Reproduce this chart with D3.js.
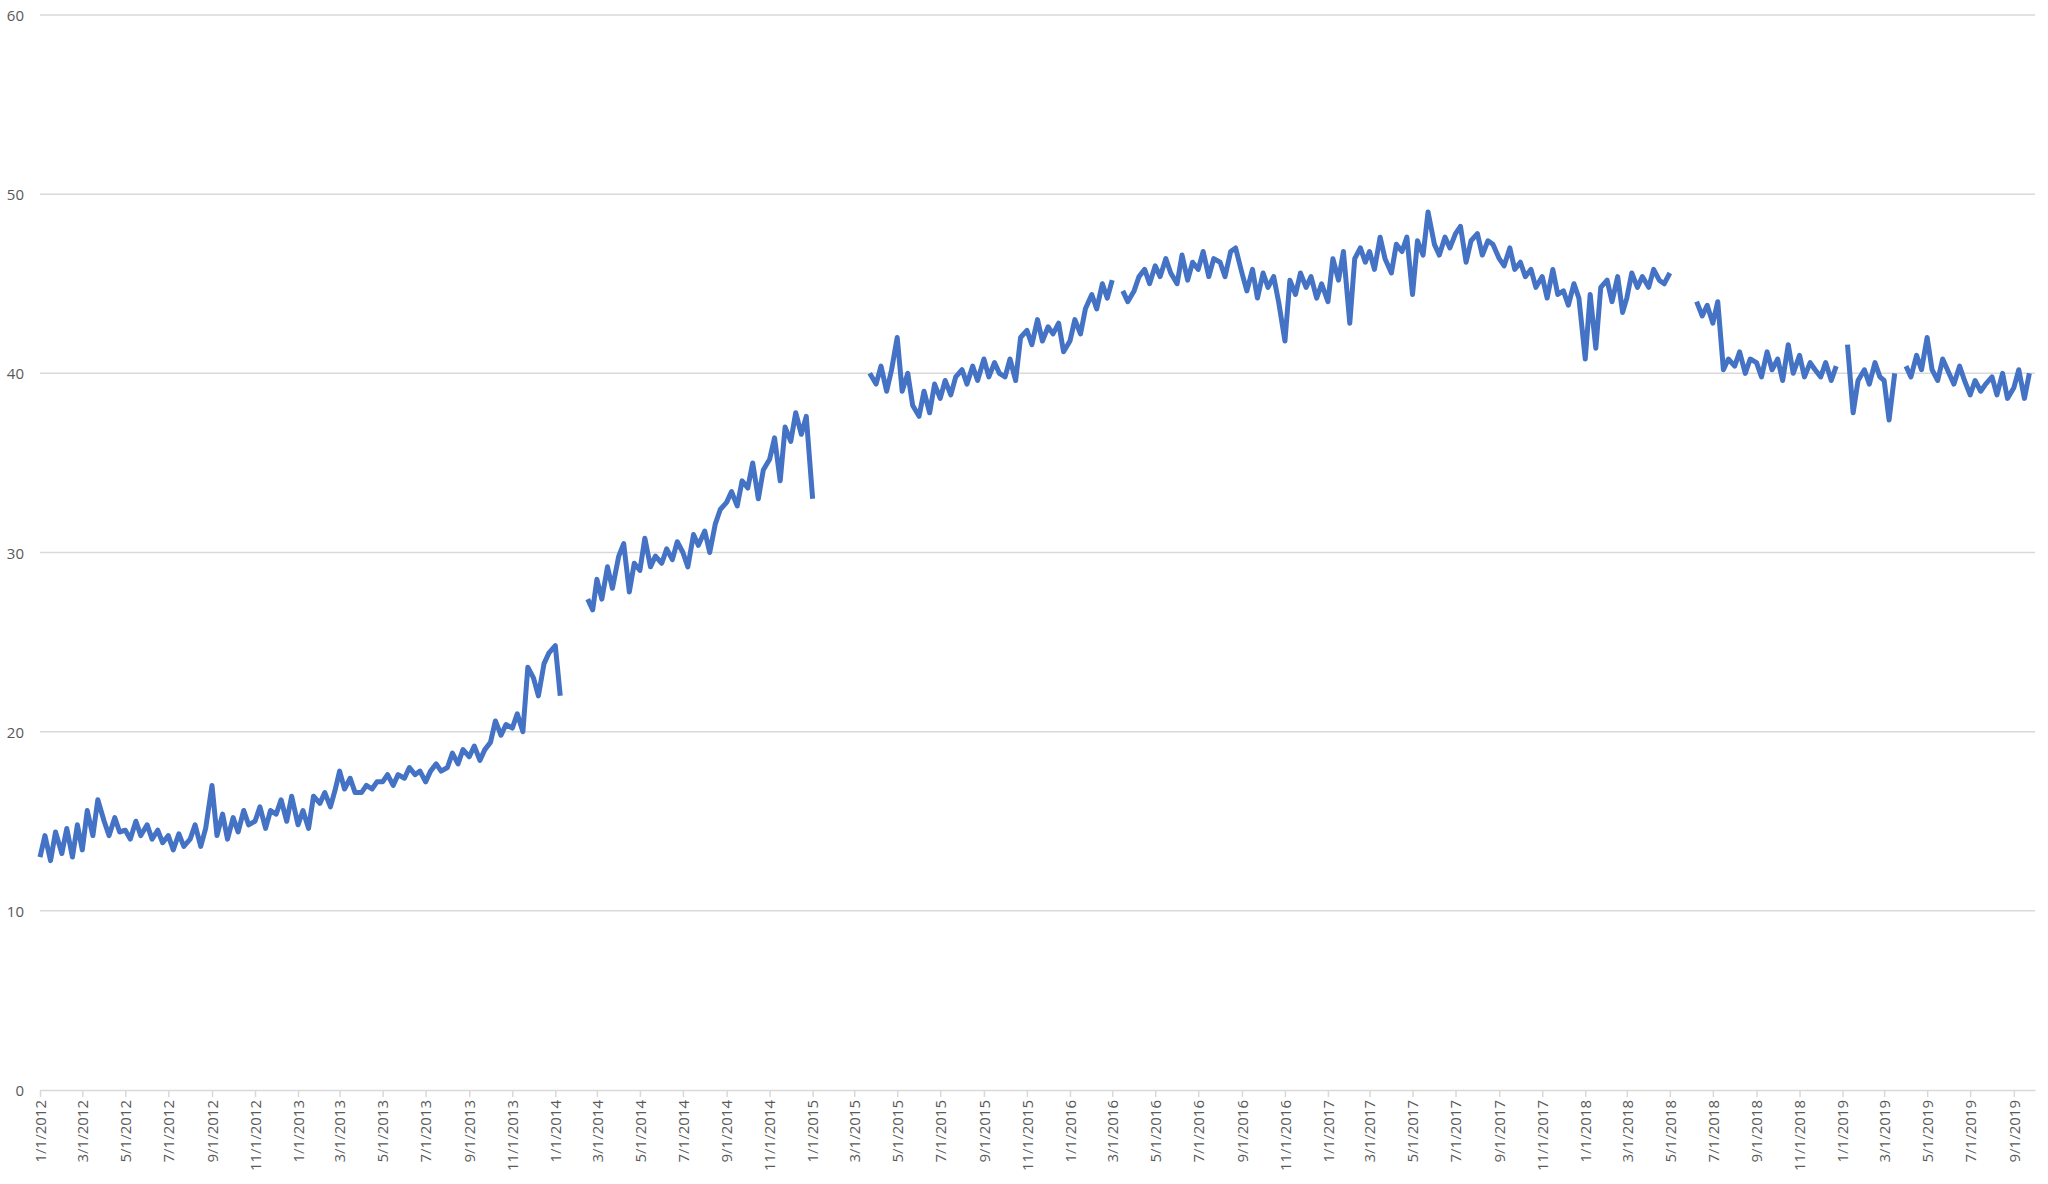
<!DOCTYPE html>
<html><head><meta charset="utf-8">
<script src="https://cdn.jsdelivr.net/npm/d3@7"></script>
<style>body{margin:0;background:#fff}svg{display:block}</style></head>
<body><svg id="c" width="2048" height="1184"></svg>
<script>
const months=["2012-01","2012-02","2012-03","2012-04","2012-05","2012-06","2012-07","2012-08","2012-09","2012-10","2012-11","2012-12",
"2013-01","2013-02","2013-03","2013-04","2013-05","2013-06","2013-07","2013-08","2013-09","2013-10","2013-11","2013-12",
"2014-01","2014-02","2014-03","2014-04","2014-05","2014-06","2014-07","2014-08","2014-09","2014-10","2014-11","2014-12",
"2015-01","2015-02","2015-03","2015-04","2015-05","2015-06","2015-07","2015-08","2015-09","2015-10","2015-11","2015-12",
"2016-01","2016-02","2016-03","2016-04","2016-05","2016-06","2016-07","2016-08","2016-09","2016-10","2016-11","2016-12",
"2017-01","2017-02","2017-03","2017-04","2017-05","2017-06","2017-07","2017-08","2017-09","2017-10","2017-11","2017-12",
"2018-01","2018-02","2018-03","2018-04","2018-05","2018-06","2018-07","2018-08","2018-09","2018-10","2018-11","2018-12",
"2019-01","2019-02","2019-03","2019-04","2019-05","2019-06","2019-07","2019-08","2019-09"];
const sampleDays=[1,8,16,23];
const values=[
[13.0,14.2,12.8,14.4],[13.2,14.6,13.0,14.8],[13.4,15.6,14.2,16.2],[15.0,14.2,15.2,14.4],[14.5,14.0,15.0,14.2],[14.8,14.0,14.5,13.8],
[14.2,13.4,14.3,13.6],[14.0,14.8,13.6,14.6],[17.0,14.2,15.4,14.0],[15.2,14.4,15.6,14.8],[15.0,15.8,14.6,15.6],[15.4,16.2,15.0,16.4],
[14.8,15.6,14.6,16.4],[16.0,16.6,15.8,16.8],[17.8,16.8,17.4,16.6],[16.6,17.0,16.8,17.2],[17.2,17.6,17.0,17.6],[17.4,18.0,17.6,17.8],
[17.2,17.8,18.2,17.8],[18.0,18.8,18.2,19.0],[18.6,19.2,18.4,19.0],[19.4,20.6,19.8,20.4],[20.2,21.0,20.0,23.6],[23.0,22.0,23.8,24.4],
[24.8,22.0,null,null],[null,null,27.4,26.8],[28.5,27.4,29.2,28.0],[29.8,30.5,27.8,29.4],[29.0,30.8,29.2,29.8],[29.4,30.2,29.6,30.6],
[30.0,29.2,31.0,30.4],[31.2,30.0,31.6,32.4],[32.8,33.4,32.6,34.0],[33.6,35.0,33.0,34.6],[35.2,36.4,34.0,37.0],[36.2,37.8,36.6,37.6],
[33.0,null,null,null],[null,null,null,null],[null,null,null,40.0],[39.4,40.4,39.0,40.2],[42.0,39.0,40.0,38.2],[37.6,39.0,37.8,39.4],
[38.6,39.6,38.8,39.8],[40.2,39.4,40.4,39.6],[40.8,39.8,40.6,40.0],[39.8,40.8,39.6,42.0],[42.4,41.6,43.0,41.8],[42.6,42.2,42.8,41.2],
[41.8,43.0,42.2,43.6],[44.4,43.6,45.0,44.2],[45.2,null,44.6,44.0],[44.6,45.4,45.8,45.0],[46.0,45.4,46.4,45.6],[45.0,46.6,45.2,46.2],
[45.8,46.8,45.4,46.4],[46.2,45.4,46.8,47.0],[45.6,44.6,45.8,44.2],[45.6,44.8,45.4,44.0],[41.8,45.2,44.4,45.6],[44.8,45.4,44.2,45.0],
[44.0,46.4,45.2,46.8],[42.8,46.4,47.0,46.2],[46.8,45.8,47.6,46.4],[45.6,47.2,46.8,47.6],[44.4,47.4,46.6,49.0],[47.2,46.6,47.6,47.0],
[47.8,48.2,46.2,47.4],[47.8,46.6,47.4,47.2],[46.4,46.0,47.0,45.8],[46.2,45.4,45.8,44.8],[45.4,44.2,45.8,44.4],[44.6,43.8,45.0,44.2],
[40.8,44.4,41.4,44.8],[45.2,44.0,45.4,43.4],[44.2,45.6,44.8,45.4],[44.8,45.8,45.2,45.0],[45.6,null,null,null],[null,44.0,43.2,43.8],
[42.8,44.0,40.2,40.8],[40.4,41.2,40.0,40.8],[40.6,39.8,41.2,40.2],[40.8,39.6,41.6,40.0],[41.0,39.8,40.6,40.2],[39.8,40.6,39.6,40.4],
[null,41.6,37.8,39.6],[40.2,39.4,40.6,39.8],[39.6,37.4,40.0,null],[40.4,39.8,41.0,40.2],[42.0,40.2,39.6,40.8],[40.0,39.4,40.4,39.6],
[38.8,39.6,39.0,39.4],[39.8,38.8,40.0,38.6],[39.2,40.2,38.6,40.0]];
const yTicks=[0,10,20,30,40,50,60];

const data=[];
months.forEach((m,i)=>{const [y,mo]=m.split("-").map(Number);
  values[i].forEach((v,j)=>data.push({d:new Date(y,mo-1,sampleDays[j]),v}));});

const svg=d3.select("#c");
const L=40,R=2035,T=15,B=1090;
const x=d3.scaleTime().domain([new Date(2012,0,1),new Date(2019,9,1)]).range([L,R]);
const y=d3.scaleLinear().domain([0,60]).range([B,T]);

svg.append("g").selectAll("line").data(yTicks.slice(1)).join("line")
 .attr("x1",L).attr("x2",R).attr("y1",d=>y(d)).attr("y2",d=>y(d))
 .attr("stroke","#d9d9d9").attr("stroke-width",1.5);
svg.append("g").selectAll("text").data(yTicks).join("text")
 .attr("x",24).attr("y",d=>y(d)+6).attr("text-anchor","end")
 .attr("font-family","Open Sans, sans-serif").attr("font-size",15).attr("fill","#595959").text(d=>d);

const xt=d3.timeMonth.every(2).range(new Date(2012,0,1),new Date(2019,9,2));
const xa=svg.append("g").attr("transform",`translate(0,${B})`)
 .call(d3.axisBottom(x).tickValues(xt).tickSize(7).tickSizeOuter(0).tickFormat(d3.timeFormat("%-m/%-d/%Y")));
xa.select(".domain").attr("stroke","#d9d9d9").attr("stroke-width",1.5);
xa.selectAll(".tick line").attr("stroke","#d9d9d9").attr("stroke-width",1.5);
xa.selectAll("text").attr("font-family","Open Sans, sans-serif").attr("font-size",15).attr("fill","#595959")
 .attr("transform","rotate(-90)").attr("text-anchor","end").attr("x",-10).attr("y",0).attr("dy","0.35em");

svg.append("path").datum(data)
 .attr("d",d3.line().defined(d=>d.v!=null).x(d=>x(d.d)).y(d=>y(d.v)))
 .attr("fill","none").attr("stroke","#4472C4").attr("stroke-width",5).attr("stroke-linejoin","round");
</script></body></html>
